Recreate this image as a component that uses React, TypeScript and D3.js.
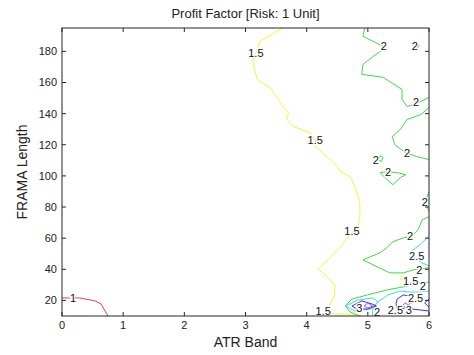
import React from "react";
import * as d3 from "d3";

// ---- Data (x = ATR Band, y = FRAMA Length) ----
const xTicks = [0, 1, 2, 3, 4, 5, 6];
const yTicks = [20, 40, 60, 80, 100, 120, 140, 160, 180];
const titleText = "Profit Factor [Risk: 1 Unit]";
const xLabel = "ATR Band";
const yLabel = "FRAMA Length";

// contour polylines per level (data coordinates)
const level1Lines: number[][][] = [
  [[0, 21.6], [0.29, 21.6], [0.54, 19.7], [0.64, 17.7], [0.75, 10]],
];
const level15Lines: number[][][] = [
  [[3.61, 195], [3.48, 192.3], [3.24, 186.5], [3.17, 178.7], [3.12, 173.6], [3.19, 162.0], [3.4, 156.8], [3.61, 144.6], [3.7, 140.7], [3.68, 136.2], [3.78, 131.7], [4.05, 127.9], [4.14, 123.3], [4.14, 118.8], [4.33, 112.4], [4.5, 106.0], [4.55, 102.7], [4.71, 99.5], [4.79, 93.1], [4.87, 82.8], [4.87, 73.8], [4.84, 67.3], [4.74, 63.5], [4.68, 60.9], [4.55, 54.4], [4.35, 46.1], [4.19, 40.3], [4.3, 36.4], [4.46, 30.0], [4.46, 23.5], [4.38, 17.1], [4.3, 14.5], [4.46, 11.3], [4.71, 11.3], [4.9, 10]],
  [[5.54, 35.1], [5.61, 35.1], [5.61, 33.2], [5.54, 33.2], [5.54, 35.1]],
];
const level2Lines: number[][][] = [
  [[4.95, 195], [4.92, 189.7], [5.08, 186.5], [5.25, 183.2], [5.25, 181.3], [5.07, 176.2], [4.92, 171.6], [4.9, 165.2], [5.25, 163.3], [5.56, 155.5], [5.56, 149.1], [5.64, 144.6], [5.77, 145.9], [6, 150.4]],
  [[5.72, 185.5], [5.8, 186.2], [5.84, 183.5], [5.78, 181.5], [5.72, 185.5]],
  [[6, 144.0], [5.87, 139.4], [5.64, 136.2], [5.53, 129.8], [5.4, 125.3], [5.44, 120.1], [5.61, 115.0], [5.8, 112.4], [6, 110.5]],
  [[5.2, 113.0], [5.25, 111.7], [5.22, 109.2], [5.17, 110.5], [5.2, 113.0]],
  [[5.2, 102.1], [5.31, 102.7], [5.48, 102.1], [5.62, 100.8], [5.53, 98.9], [5.41, 94.4], [5.28, 98.9], [5.2, 102.1]],
  [[6, 89.9], [5.95, 84.7], [5.97, 80.2], [6, 77.0]],
  [[6, 73.8], [5.89, 71.8], [5.82, 65.4], [5.74, 62.2], [5.69, 60.9], [5.58, 60.2], [5.41, 57.7], [5.31, 53.8], [5.2, 50.6], [4.92, 46.1], [5.15, 41.6], [5.36, 37.7], [5.58, 37.7], [5.74, 39.6], [5.85, 40.3], [6, 40.9]],
  [[4.87, 10], [4.71, 12.6], [4.63, 16.4], [4.74, 20.9], [4.99, 23.5], [5.31, 26.7], [5.58, 28.7], [5.74, 30.0], [6, 31.9]],
];
const level25Lines: number[][][] = [
  [[6, 61.6], [5.87, 56.4], [5.72, 51.9], [5.75, 48.0], [5.89, 44.1], [6, 42.2]],
  [[5.08, 10], [5.08, 14.5], [5.16, 19.0], [5.33, 23.5], [5.52, 26.0], [5.69, 25.4], [5.85, 25.4], [6, 26.0]],
  [[4.63, 16.4], [4.84, 20.3], [5.09, 21.6], [5.17, 19.0], [5.04, 14.5], [4.79, 13.2], [4.63, 16.4]],
];
const level3Lines: number[][][] = [
  [[4.74, 16.4], [4.9, 19.7], [5.07, 17.7], [5.14, 16.4], [5.0, 14.5], [4.82, 14.5], [4.74, 16.4]],
  [[5.48, 20.9], [5.58, 23.5], [5.69, 22.9], [5.71, 19.0], [5.62, 15.1], [5.49, 14.5], [5.46, 17.7], [5.48, 20.9]],
  [[5.72, 14.5], [5.85, 13.9], [6, 13.2]],
  [[6, 20.9], [5.93, 18.4], [6, 15.7]],
];
const level35Lines: number[][][] = [
  [[4.94, 16.4], [5.0, 18.4], [5.08, 16.4], [5.0, 15.1], [4.94, 16.4]],
  [[5.57, 17.1], [5.62, 18.4], [5.67, 16.4], [5.62, 15.1], [5.57, 17.1]],
];

const contourLevels = [1, 1.5, 2, 2.5, 3, 3.5];
const contourLines = [level1Lines, level15Lines, level2Lines, level25Lines, level3Lines, level35Lines];

// inline labels: text, x, y
const labelTexts = ["1", "1.5", "1.5", "1.5", "1.5", "1.5", "2", "2", "2", "2", "2", "2", "2", "2", "2", "2", "2", "2.5", "2.5", "2.5", "3", "3"];
const labelX = [0.18, 3.17, 4.14, 4.74, 4.27, 5.7, 5.26, 5.77, 5.64, 5.13, 5.33, 5.93, 5.69, 5.84, 5.9, 5.15, 5.79, 5.8, 5.45, 5.78, 4.86, 5.67];
const labelY = [21.6, 178.7, 123.3, 64.3, 13.2, 32.4, 183.2, 183.6, 115.0, 110.5, 102.7, 83.4, 61.5, 39.4, 29.4, 12.6, 147.2, 48.2, 13.9, 21.6, 15.1, 13.9];

const levelColor: Record<string, string> = {
  "1": "#e8404e",
  "1.5": "#f5f53a",
  "2": "#3ddc3d",
  "2.5": "#3cd8f0",
  "3": "#3535f0",
  "3.5": "#c040d8",
};

export default function App() {
  const W = 474, H = 355;
  const x = d3.scaleLinear().domain([0, 6]).range([62, 429]);
  const y = d3.scaleLinear().domain([10, 195]).range([316, 28]);
  const line = d3.line<number[]>().x((d) => x(d[0])).y((d) => y(d[1]));
  const font = "'Liberation Sans', Arial, Helvetica, sans-serif";
  const [x0, x1] = x.range();
  const [yb, yt] = y.range();
  const tickLen = 4;
  const axisColor = "#262626";

  return (
    <svg width={W} height={H} style={{ position: "absolute", left: 0, top: 0, background: "#fff" }} fontFamily={font}>
      <defs>
        <clipPath id="plotclip">
          <rect x={x0} y={yt} width={x1 - x0} height={yb - yt} />
        </clipPath>
      </defs>
      <rect x={0} y={0} width={W} height={H} fill="#fff" />
      <g clipPath="url(#plotclip)">
        {contourLines.map((lines, li) =>
          lines.map((pts, i) => (
            <path key={`${li}-${i}`} d={line(pts) || ""} fill="none" stroke={levelColor[String(contourLevels[li])]} strokeWidth={1} />
          ))
        )}
        {labelTexts.map((t, i) => (
          <text key={i} x={x(labelX[i])} y={y(labelY[i])} dy="0.36em" textAnchor="middle" fontSize={11} fill="#111" stroke="#fff" strokeWidth={2.5} style={{ paintOrder: "stroke" }}>
            {t}
          </text>
        ))}
      </g>
      {/* frame */}
      <rect x={x0} y={yt} width={x1 - x0} height={yb - yt} fill="none" stroke={axisColor} strokeWidth={1} />
      {xTicks.map((t) => (
        <g key={`xt${t}`}>
          <line x1={x(t)} x2={x(t)} y1={yb} y2={yb - tickLen} stroke={axisColor} />
          <line x1={x(t)} x2={x(t)} y1={yt} y2={yt + tickLen} stroke={axisColor} />
          <text x={x(t)} y={329} textAnchor="middle" fontSize={11} fill="#222">{t}</text>
        </g>
      ))}
      {yTicks.map((t) => (
        <g key={`yt${t}`}>
          <line x1={x0} x2={x0 + tickLen} y1={y(t)} y2={y(t)} stroke={axisColor} />
          <line x1={x1} x2={x1 - tickLen} y1={y(t)} y2={y(t)} stroke={axisColor} />
          <text x={57} y={y(t)} dy="0.36em" textAnchor="end" fontSize={11} fill="#222">{t}</text>
        </g>
      ))}
      <text x={(x0 + x1) / 2} y={18} textAnchor="middle" fontSize={13} fill="#222">{titleText}</text>
      <text x={(x0 + x1) / 2} y={347} textAnchor="middle" fontSize={14} fill="#222">{xLabel}</text>
      <text transform={`translate(27,${(yt + yb) / 2}) rotate(-90)`} textAnchor="middle" fontSize={14} fill="#222">{yLabel}</text>
    </svg>
  );
}
